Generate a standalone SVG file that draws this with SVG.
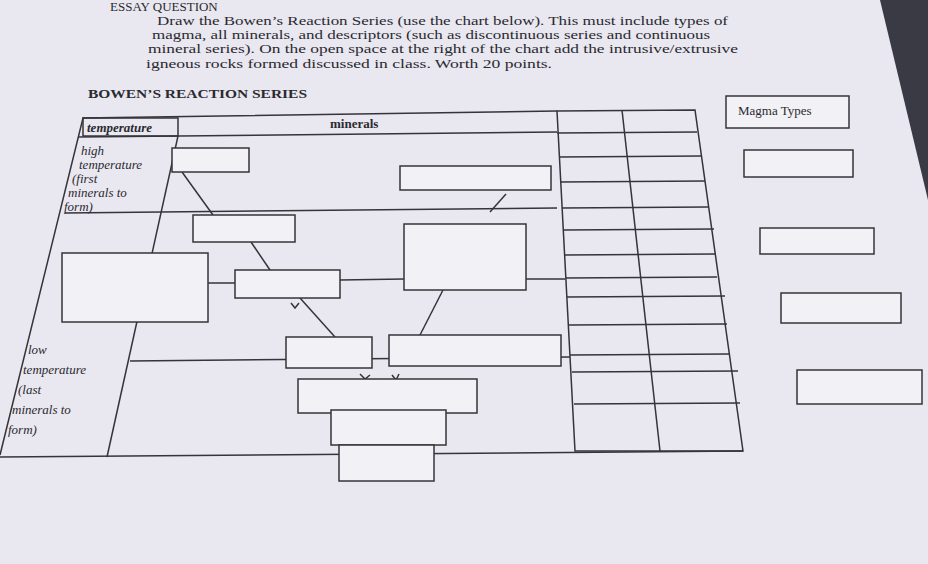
<svg xmlns="http://www.w3.org/2000/svg" width="928" height="564" viewBox="0 0 928 564">
<style>
.t{font-family:"Liberation Serif",serif;font-size:13px;fill:#2a2a30}
.i{font-style:italic}
.b{font-weight:bold}
.s{fill:none;stroke:#34343a;stroke-width:1.5}
.bx{fill:#f2f1f6;stroke:#34343a;stroke-width:1.5}
</style>
<rect width="928" height="564" fill="#e9e7ef"/>
<polygon points="880,0 928,0 928,200" fill="#3a3a44"/>
<g id="header">
<text class="t" x="110" y="11" font-size="10">ESSAY QUESTION</text>
<text class="t" x="157" y="25" font-size="14" textLength="571" lengthAdjust="spacingAndGlyphs">Draw the Bowen’s Reaction Series (use the chart below).  This must include types of</text>
<text class="t" x="152" y="39" font-size="14" textLength="558" lengthAdjust="spacingAndGlyphs">magma, all minerals, and descriptors (such as discontinuous series and continuous</text>
<text class="t" x="148" y="53" font-size="14" textLength="590" lengthAdjust="spacingAndGlyphs">mineral series).  On the open space at the right of the chart add the intrusive/extrusive</text>
<text class="t" x="146" y="68" font-size="14" textLength="406" lengthAdjust="spacingAndGlyphs">igneous rocks formed discussed in class.   Worth 20 points.</text>
<text class="t b" x="88" y="98" textLength="219" lengthAdjust="spacingAndGlyphs">BOWEN’S REACTION SERIES</text>
</g>
<g id="chart-frame">
<polyline class="s" points="557,111 83,118 0,455"/>
<line class="s" x1="0" y1="457" x2="743" y2="451"/>
<line class="s" x1="78" y1="137" x2="557" y2="132"/>
<rect class="s" x="83" y="118" width="95" height="18"/>
<line class="s" x1="178" y1="136" x2="107" y2="457"/>
<line class="s" x1="65" y1="213" x2="557" y2="208"/>
<line class="s" x1="130" y1="361" x2="570" y2="357"/>
<line class="s" x1="208" y1="283" x2="235" y2="283"/>
<line class="s" x1="340" y1="280" x2="404" y2="279"/>
<line class="s" x1="526" y1="279" x2="565" y2="279"/>
<text class="t b i" x="87" y="132">temperature</text>
<text class="t b" x="330" y="128">minerals</text>
<g font-size="12">
<text class="t i" x="81" y="155" font-size="12">high</text>
<text class="t i" x="79" y="169" font-size="12">temperature</text>
<text class="t i" x="72" y="183" font-size="12">(first</text>
<text class="t i" x="68" y="197" font-size="12">minerals to</text>
<text class="t i" x="64" y="211" font-size="12">form)</text>
</g>
<text class="t i" x="28" y="354">low</text>
<text class="t i" x="23" y="374">temperature</text>
<text class="t i" x="18" y="394">(last</text>
<text class="t i" x="12" y="414">minerals to</text>
<text class="t i" x="8" y="434">form)</text>
</g>
<g id="grid">
<polygon class="s" points="557,111 695,110 743,451 575,451"/>
<line class="s" x1="622" y1="110" x2="660" y2="451"/>
<line class="s" x1="557" y1="133" x2="697" y2="132"/>
<line class="s" x1="559" y1="157" x2="702" y2="156"/>
<line class="s" x1="560" y1="182" x2="705" y2="181"/>
<line class="s" x1="562" y1="208" x2="708" y2="207"/>
<line class="s" x1="564" y1="230" x2="714" y2="229"/>
<line class="s" x1="565" y1="255" x2="716" y2="254"/>
<line class="s" x1="566" y1="278" x2="717" y2="277"/>
<line class="s" x1="567" y1="297" x2="725" y2="296"/>
<line class="s" x1="569" y1="325" x2="727" y2="324"/>
<line class="s" x1="570" y1="355" x2="729" y2="354"/>
<line class="s" x1="572" y1="372" x2="738" y2="371"/>
<line class="s" x1="574" y1="404" x2="740" y2="403"/>
</g>
<g id="connectors">
<line class="s" x1="182" y1="172" x2="213" y2="215"/>
<line class="s" x1="251" y1="242" x2="270" y2="270"/>
<line class="s" x1="490" y1="212" x2="506" y2="194"/>
<line class="s" x1="300" y1="298" x2="335" y2="337"/>
<line class="s" x1="443" y1="290" x2="420" y2="335"/>
<path class="s" d="M291,303 l4,5 l4,-5 M360,374 l5,5 l5,-4 M392,375 l4,5 l3,-6"/>
</g>
<g id="n1"><rect class="bx" x="172" y="148" width="77" height="24"/></g>
<g id="n2"><rect class="bx" x="193" y="215" width="102" height="27"/></g>
<g id="n3"><rect class="bx" x="62" y="253" width="146" height="69"/></g>
<g id="n4"><rect class="bx" x="235" y="270" width="105" height="28"/></g>
<g id="n5"><rect class="bx" x="404" y="224" width="122" height="66"/></g>
<g id="n6"><rect class="bx" x="400" y="166" width="151" height="24"/></g>
<g id="n7"><rect class="bx" x="286" y="337" width="86" height="31"/></g>
<g id="n8"><rect class="bx" x="389" y="335" width="172" height="31"/></g>
<g id="n9"><rect class="bx" x="298" y="379" width="179" height="34"/></g>
<g id="n10"><rect class="bx" x="331" y="410" width="115" height="35"/></g>
<g id="n11"><rect class="bx" x="339" y="445" width="95" height="36"/></g>
<g id="magma">
<rect class="bx" x="726" y="96" width="123" height="32"/>
<text class="t" x="738" y="115">Magma Types</text>
<rect class="bx" x="744" y="150" width="109" height="27"/>
<rect class="bx" x="760" y="228" width="114" height="26"/>
<rect class="bx" x="781" y="293" width="120" height="30"/>
<rect class="bx" x="797" y="370" width="125" height="34"/>
</g>
</svg>
